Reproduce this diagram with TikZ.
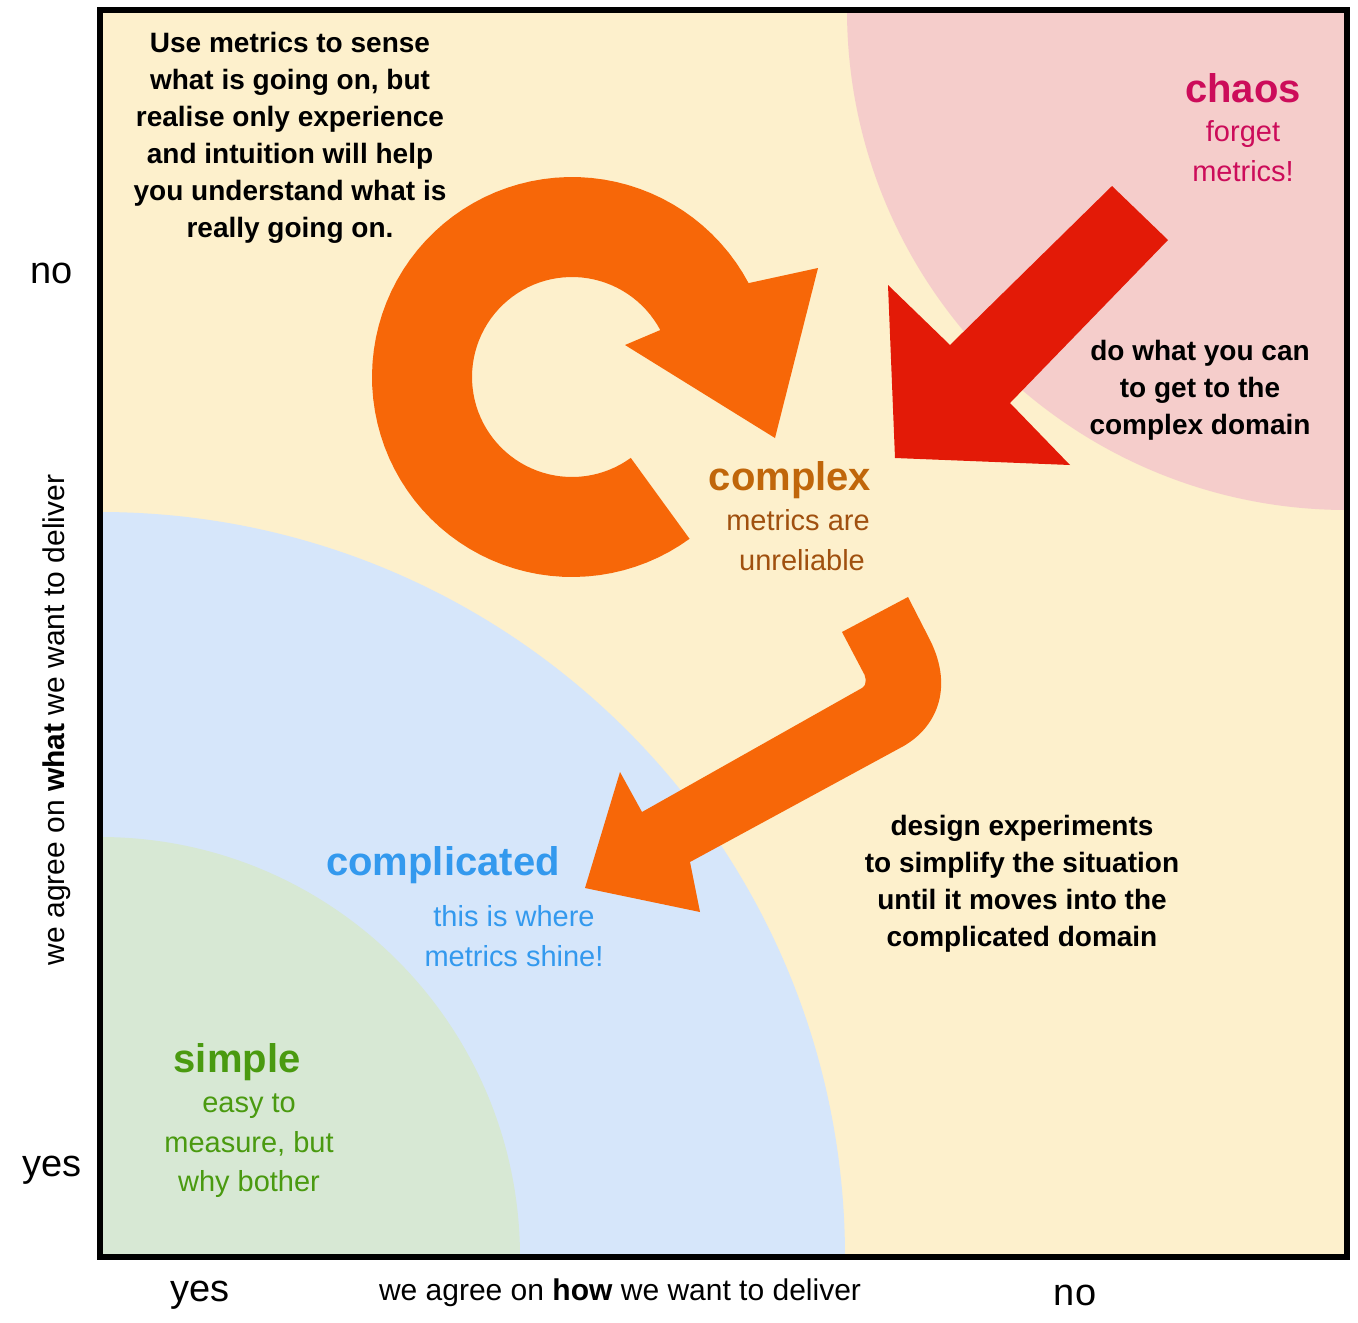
\documentclass[tikz,border=0pt]{standalone}
\usepackage{fontspec}
\setmainfont{Liberation Sans}
\definecolor{cream}{HTML}{FDF0CC}
\definecolor{pinkz}{HTML}{F5CDCB}
\definecolor{bluez}{HTML}{D6E6FA}
\definecolor{greenz}{HTML}{D7E8D4}
\definecolor{orangea}{HTML}{F76708}
\definecolor{reda}{HTML}{E31A07}
\definecolor{chaosc}{HTML}{CC0C5A}
\definecolor{complexc}{HTML}{C0660A}
\definecolor{complexs}{HTML}{A0500F}
\definecolor{complc}{HTML}{3399EE}
\definecolor{simplec}{HTML}{4A9A10}
\begin{document}
\begin{tikzpicture}[x=1pt,y=-1pt,
  body/.style={align=center,font=\fontsize{28}{37}\selectfont\bfseries},
  title/.style={font=\fontsize{40}{44}\selectfont\bfseries},
  sub/.style={align=center,font=\fontsize{29}{39.5}\selectfont},
  axis/.style={font=\fontsize{38}{42}\selectfont},
  axlab/.style={font=\fontsize{30}{34}\selectfont}]
\useasboundingbox (0,0) rectangle (1358,1323);
\begin{scope}
\clip (100,10) rectangle (1347,1257);
\fill[cream] (100,10) rectangle (1347,1257);
\fill[pinkz] (1347,10) circle[radius=500pt];
\fill[bluez] (100,1257) circle[radius=745pt];
\fill[greenz] (100,1257) circle[radius=420pt];
\end{scope}
\draw[line width=6pt] (100,10) rectangle (1347,1257);
% circular arrow
\fill[orangea] plot[domain=-54:-332,samples=80] ({572+200*cos(\x)},{377-200*sin(\x)})
  -- (818,268) -- (775,438) -- (625,345)
  -- plot[domain=-332:-54,samples=80] ({572+100*cos(\x)},{377-100*sin(\x)}) -- cycle;
% red arrow
\fill[reda] (1112,186) -- (1168,240) -- (1010,403) -- (1070,465) -- (895,458) -- (888,285) -- (950,345) -- cycle;
% bent arrow
\fill[orangea] (842,632) -- (908,597) -- (930,640) .. controls (955,690) and (935,730) .. (900,748)
  -- (690,862) -- (700,912) -- (585,888) -- (620,772) -- (642,812) -- (862,688)
  .. controls (868,684) and (866,676) .. (862,670) -- cycle;
% texts
\node[body] (tl) at (290,138) {Use metrics to sense\\what is going on, but\\realise only experience\\and intuition will help\\you understand what is\\really going on.};
\node[title,text=chaosc] (chaos) at (1243,88) {chaos};
\node[sub,text=chaosc] (chaoss) at (1243,151) {forget\\metrics!};
\node[body] (dw) at (1200,390) {do what you can\\to get to the\\complex domain};
\node[title,text=complexc] (cx) at (790,480) {complex};
\node[sub,text=complexs] (cxs) at (798,540) {metrics are\\\hspace*{8pt}unreliable};
\node[title,text=complc] (cd) at (443,865) {complicated};
\node[sub,text=complc] (cds) at (514,936) {this is where\\metrics shine!};
\node[body] (de) at (1022,884) {design experiments\\to simplify the situation\\until it moves into the\\complicated domain};
\node[title,text=simplec] (si) at (237,1062) {simple};
\node[sub,text=simplec] (sis) at (249,1146) {easy to\\measure, but\\why bother};
\node[axis] (no1) at (52,273) {no};
\node[axis] (yes1) at (52,1170) {yes};
\node[axis] (yes2) at (200,1295) {yes};
\node[axis] (no2) at (1075,1295) {no};
\node[axlab,rotate=90] (ya) at (57,720) {we agree on \textbf{what} we want to deliver};
\node[axlab] (xa) at (620,1293) {we agree on \textbf{how} we want to deliver};
\end{tikzpicture}
\end{document}
